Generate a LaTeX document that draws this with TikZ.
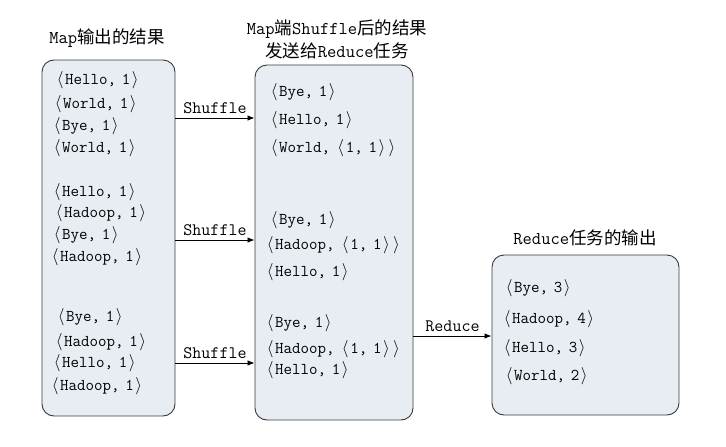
\documentclass[tikz,border=0pt]{standalone}
\usepackage{fontspec}
\newfontfamily\cjk{Noto Sans CJK SC}
\usetikzlibrary{arrows.meta}
\definecolor{boxfill}{HTML}{E8EDF4}
\definecolor{boxline}{HTML}{3A3A3A}
\tikzset{
  panel/.style={draw=boxline, line width=0.9pt, fill=boxfill, rounded corners=12pt, inner sep=0pt},
  kv/.style={anchor=west, inner sep=0pt, font=\ttfamily\fontsize{16.5}{18}\selectfont},
  ttl/.style={inner sep=0pt, align=center, font=\ttfamily\fontsize{18}{23}\selectfont},
  arr/.style={draw=black, line width=0.8pt, -{Latex[length=7pt,width=5.5pt]}},
  lbl/.style={inner sep=0pt, anchor=south, font=\ttfamily\fontsize{17.5}{19}\selectfont}
}
\newcommand{\ab}{\makebox[0.6em]{$\langle$}}
\newcommand{\cb}{\makebox[0.6em]{$\rangle$}}
\newcommand{\kvp}[2]{\ab#1,\hspace{0.35em}#2\cb}
\newcommand{\zh}[1]{{\cjk\fontsize{17.5}{23}\selectfont #1}}
\begin{document}
\begin{tikzpicture}[x=1pt,y=-1pt]
\useasboundingbox (0,0) rectangle (726,447);
% panels
\node[panel, minimum width=133pt, minimum height=356pt] (b1) at (108.5,238) {};
\node[panel, minimum width=158pt, minimum height=355pt] (b2) at (334,242.5) {};
\node[panel, minimum width=187pt, minimum height=160pt] (b3) at (585.5,335) {};
% titles
\node[ttl] (t1) at (107,38) {Map\zh{输出的结果}};
\node[ttl] (t2) at (337,39) {Map\zh{端}Shuffle\zh{后的结果}\\\zh{发送给}Reduce\zh{任务}};
\node[ttl] (t3) at (585,238) {Reduce\zh{任务的输出}};
% box 1
\node[kv] (a1) at (55,80) {\kvp{Hello}{1}};
\node[kv] (a2) at (53,104) {\kvp{World}{1}};
\node[kv] (a3) at (52,126) {\kvp{Bye}{1}};
\node[kv] (a4) at (52,148) {\kvp{World}{1}};
\node[kv] (a5) at (52,192) {\kvp{Hello}{1}};
\node[kv] (a6) at (54,213) {\kvp{Hadoop}{1}};
\node[kv] (a7) at (52,235) {\kvp{Bye}{1}};
\node[kv] (a8) at (50,257) {\kvp{Hadoop}{1}};
\node[kv] (a9) at (56,317) {\kvp{Bye}{1}};
\node[kv] (a10) at (54,342) {\kvp{Hadoop}{1}};
\node[kv] (a11) at (52,363) {\kvp{Hello}{1}};
\node[kv] (a12) at (50,386) {\kvp{Hadoop}{1}};
% box 2
\node[kv] (c1) at (269,92) {\kvp{Bye}{1}};
\node[kv] (c2) at (269,120) {\kvp{Hello}{1}};
\node[kv] (c3) at (269,148) {\kvp{World}{\kvp{1}{1}}};
\node[kv] (c4) at (269,220) {\kvp{Bye}{1}};
\node[kv] (c5) at (265,245) {\kvp{Hadoop}{\kvp{1}{1}}};
\node[kv] (c6) at (265,272) {\kvp{Hello}{1}};
\node[kv] (c7) at (265,323) {\kvp{Bye}{1}};
\node[kv] (c8) at (265,349) {\kvp{Hadoop}{\kvp{1}{1}}};
\node[kv] (c9) at (265,370) {\kvp{Hello}{1}};
% box 3
\node[kv] (d1) at (504,288) {\kvp{Bye}{3}};
\node[kv] (d2) at (502,319) {\kvp{Hadoop}{4}};
\node[kv] (d3) at (502,348) {\kvp{Hello}{3}};
\node[kv] (d4) at (504,376) {\kvp{World}{2}};
% arrows
\coordinate (s1) at (0,118);
\coordinate (s2) at (0,240);
\coordinate (s3) at (0,363);
\coordinate (s4) at (0,336);
\draw[arr] (b1.east |- s1) -- node[lbl, above=4pt] (l1) {Shuffle} (b2.west |- s1);
\draw[arr] (b1.east |- s2) -- node[lbl, above=4pt] (l2) {Shuffle} (b2.west |- s2);
\draw[arr] (b1.east |- s3) -- node[lbl, above=4pt] (l3) {Shuffle} (b2.west |- s3);
\draw[arr] (b2.east |- s4) -- node[lbl, above=4pt] (l4) {Reduce} (b3.west |- s4);
\end{tikzpicture}
\end{document}
